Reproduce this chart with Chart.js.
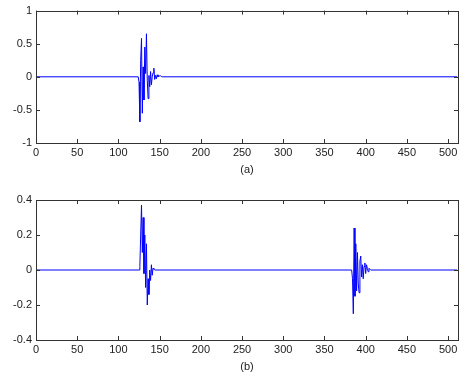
<!DOCTYPE html>
<html>
<head>
<meta charset="utf-8">
<script src="https://cdn.jsdelivr.net/npm/chart.js@4.4.1/dist/chart.umd.min.js"></script>
<style>
html,body{margin:0;padding:0;background:#fff;}
#wrap{position:relative;width:474px;height:392px;overflow:hidden;}
.c{position:absolute;left:0;}
</style>
</head>
<body>
<div id="wrap">
<div class="c" style="top:0;width:474px;height:180px;"><canvas id="ca"></canvas></div>
<div class="c" style="top:180px;width:474px;height:200px;"><canvas id="cb"></canvas></div>
</div>
<script>
// ---- data (sample index, amplitude); baseline is zero outside the events ----
const xA = [0,124,125,126,127,128,129,130,131,132,133,134,135,136,137,138,139,140,141,142,143,144,145,146,147,148,149,150,151,152,153,511];
const yA = [0,0,-0.08,-0.68,0.25,0.58,-0.55,0.15,-0.35,0.45,0.05,0.65,-0.05,-0.33,0.02,-0.15,0.08,-0.12,0.0,0.06,0.13,-0.04,0.02,-0.03,0.03,0.0,0.02,0.01,0.015,0.005,0,0];

const xB = [0,125,126,127,128,129,130,131,132,133,134,135,136,137,138,139,140,141,142,143,144,
            383,384,385,386,387,388,389,390,391,392,393,394,395,396,397,398,399,400,401,402,403,404,405,406,511];
const yB = [0,0,0.02,0.2,0.37,0.1,0.3,-0.02,0.2,-0.1,0.15,-0.2,-0.05,-0.14,0.0,-0.06,0.03,-0.03,0.01,0.005,0,
            0,-0.05,-0.25,0.24,-0.15,0.15,-0.12,0.1,-0.08,-0.13,0.05,0.08,-0.04,0.03,-0.05,0.02,0.04,-0.02,0.03,0.01,-0.01,0.01,0.005,0,0];

const xTicks = [0,50,100,150,200,250,300,350,400,450,500];
const yTicksA = [-1,-0.5,0,0.5,1];
const yTicksB = [-0.4,-0.2,0,0.2,0.4];
const labelA = '(a)';
const labelB = '(b)';

const FONT = {family:'"Liberation Sans", Arial, Helvetica, sans-serif', size:11};
const TXT = '#222';
const AXC = '#333';

const boxPlugin = {
  id:'boxTicks',
  afterDatasetsDraw(chart){
    const {ctx, chartArea:a, scales} = chart;
    ctx.save();
    ctx.strokeStyle = AXC; ctx.lineWidth = 1;
    ctx.strokeRect(Math.round(a.left)+0.5, Math.round(a.top)+0.5, Math.round(a.right-a.left), Math.round(a.bottom-a.top));
    const L = 4;
    ctx.beginPath();
    scales.x.ticks.forEach(t=>{
      const px = Math.round(scales.x.getPixelForValue(t.value))+0.5;
      ctx.moveTo(px, a.top); ctx.lineTo(px, a.top+L);
      ctx.moveTo(px, a.bottom); ctx.lineTo(px, a.bottom-L);
    });
    scales.y.ticks.forEach(t=>{
      const py = Math.round(scales.y.getPixelForValue(t.value))+0.5;
      ctx.moveTo(a.left, py); ctx.lineTo(a.left+L, py);
      ctx.moveTo(a.right, py); ctx.lineTo(a.right-L, py);
    });
    ctx.stroke();
    ctx.restore();
  }
};

function makeChart(id, xs, ys, yTicks, label, padTop, xAxisH, padBottom){
  const pts = xs.map((x,i)=>({x:x, y:ys[i]}));
  return new Chart(document.getElementById(id), {
    type:'line',
    data:{datasets:[{data:pts, borderColor:'#0000ff', borderWidth:1, pointRadius:0, tension:0, fill:false}]},
    options:{
      responsive:true, maintainAspectRatio:false, animation:false,
      layout:{padding:{top:padTop, right:16, left:0, bottom:padBottom}},
      plugins:{legend:{display:false}, tooltip:{enabled:false}},
      scales:{
        x:{type:'linear', min:0, max:512,
           afterBuildTicks(s){ s.ticks = xTicks.map(v=>({value:v})); },
           afterFit(s){ s.height = xAxisH; },
           grid:{display:false, drawTicks:false},
           border:{display:false},
           ticks:{color:TXT, font:FONT, padding:3, maxRotation:0, autoSkip:false},
           title:{display:true, text:label, color:TXT, font:FONT, padding:{top:2,bottom:0}}
        },
        y:{type:'linear', min:yTicks[0], max:yTicks[yTicks.length-1],
           afterBuildTicks(s){ s.ticks = yTicks.map(v=>({value:v})); },
           afterFit(s){ s.width = 36; },
           grid:{display:false, drawTicks:false},
           border:{display:false},
           ticks:{color:TXT, font:FONT, padding:4, callback:(v)=>String(v)}
        }
      }
    },
    plugins:[boxPlugin]
  });
}

makeChart('ca', xA, yA, yTicksA, labelA, 5, 34, 3);
makeChart('cb', xB, yB, yTicksB, labelB, 20, 34, 6);
</script>
</body>
</html>
